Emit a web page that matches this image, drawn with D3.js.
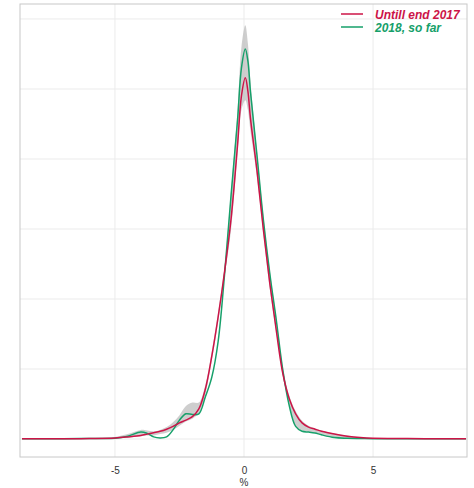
<!DOCTYPE html>
<html>
<head>
<meta charset="utf-8">
<script src="https://cdn.jsdelivr.net/npm/d3@7"></script>
<style>
  body { margin: 0; background: #fff; }
  text { font-family: "Liberation Sans", Arial, sans-serif; }
</style>
</head>
<body>
<div id="chart"></div>
<script>
var xs = [-8.6, -7, -6, -5, -4.5, -4, -3.75, -3.5, -3.25, -3, -2.75, -2.5, -2.25, -2, -1.75, -1.5, -1.25, -1, -0.75, -0.5, -0.25, -0.1, 0.05, 0.15, 0.25, 0.5, 0.75, 1, 1.25, 1.5, 1.75, 2, 2.25, 2.5, 2.75, 3, 3.5, 4, 4.5, 5, 6, 7, 8.6];

// density until end 2017
var until2017 = [0.0002, 0.0003, 0.0007, 0.0015, 0.003, 0.005, 0.007, 0.009, 0.011, 0.014, 0.018, 0.023, 0.027, 0.032, 0.043, 0.071, 0.118, 0.175, 0.24, 0.315, 0.42, 0.49, 0.516, 0.497, 0.458, 0.384, 0.299, 0.222, 0.155, 0.094, 0.058, 0.036, 0.023, 0.017, 0.014, 0.011, 0.007, 0.004, 0.002, 0.001, 0.0008, 0.0005, 0.0003];

// density 2018 so far
var so2018 = [0.0003, 0.0005, 0.0008, 0.001, 0.004, 0.010, 0.008, 0.003, 0.0015, 0.003, 0.013, 0.027, 0.036, 0.035, 0.036, 0.06, 0.088, 0.14, 0.237, 0.349, 0.456, 0.53, 0.557, 0.54, 0.496, 0.406, 0.313, 0.236, 0.17, 0.099, 0.048, 0.018, 0.011, 0.010, 0.0086, 0.006, 0.002, 0.001, 0.0007, 0.0005, 0.0004, 0.0003, 0.0002];

// grey band
var bandLow = [0, 0.0002, 0.0004, 0.0008, 0.002, 0.004, 0.005, 0.005, 0.007, 0.009, 0.013, 0.019, 0.025, 0.029, 0.037, 0.064, 0.112, 0.168, 0.232, 0.30, 0.41, 0.47, 0.484, 0.47, 0.44, 0.375, 0.293, 0.214, 0.152, 0.09, 0.049, 0.018, 0.012, 0.010, 0.009, 0.006, 0.002, 0.001, 0.0005, 0.0003, 0.0002, 0.0002, 0.0001];
var bandHigh = [0.0006, 0.0008, 0.0012, 0.003, 0.007, 0.013, 0.012, 0.011, 0.013, 0.017, 0.024, 0.034, 0.047, 0.052, 0.052, 0.077, 0.125, 0.182, 0.248, 0.355, 0.47, 0.56, 0.591, 0.565, 0.51, 0.412, 0.318, 0.24, 0.173, 0.104, 0.062, 0.04, 0.026, 0.019, 0.015, 0.012, 0.008, 0.005, 0.0025, 0.0012, 0.001, 0.0008, 0.0005];

var xTicks = [-5, 0, 5];
var yGrid = [0, 0.1, 0.2, 0.3, 0.4, 0.5, 0.6];
var seriesNames = ["Untill end 2017", "2018, so far"];
var seriesColors = ["#cc1447", "#16a06a"];

var w = 474, h = 488;
var pLeft = 20, pRight = 467, pTop = 4, pBottom = 457; // panel edges

var svg = d3.select("#chart").append("svg")
    .attr("width", w)
    .attr("height", h);

var x = d3.scaleLinear().domain([-8.68, 8.64]).range([pLeft, pRight]);
var y = d3.scaleLinear().domain([-0.0257, 0.6214]).range([pBottom, pTop]);

// grid
svg.append("g").selectAll("line")
    .data(yGrid).enter().append("line")
    .attr("x1", pLeft).attr("x2", pRight)
    .attr("y1", function(d) { return y(d); })
    .attr("y2", function(d) { return y(d); })
    .attr("stroke", "#ebebeb").attr("stroke-width", 1);

svg.append("g").selectAll("line")
    .data(xTicks).enter().append("line")
    .attr("y1", pTop).attr("y2", pBottom)
    .attr("x1", function(d) { return x(d); })
    .attr("x2", function(d) { return x(d); })
    .attr("stroke", "#ebebeb").attr("stroke-width", 1);

var rows = xs.map(function(v, i) {
    return { x: v, a: until2017[i], b: so2018[i], lo: bandLow[i], hi: bandHigh[i] };
});

var curve = d3.curveCatmullRom.alpha(0.5);

var area = d3.area()
    .x(function(d) { return x(d.x); })
    .y0(function(d) { return y(d.lo); })
    .y1(function(d) { return y(d.hi); })
    .curve(curve);

svg.append("path")
    .datum(rows)
    .attr("d", area)
    .attr("fill", "#bdbdbd")
    .attr("fill-opacity", 0.75);

function lineFor(key) {
    return d3.line()
        .x(function(d) { return x(d.x); })
        .y(function(d) { return y(d[key]); })
        .curve(curve);
}

svg.append("path").datum(rows)
    .attr("d", lineFor("b"))
    .attr("fill", "none")
    .attr("stroke", seriesColors[1])
    .attr("stroke-width", 1.5);

svg.append("path").datum(rows)
    .attr("d", lineFor("a"))
    .attr("fill", "none")
    .attr("stroke", seriesColors[0])
    .attr("stroke-width", 1.5);

// panel border
svg.append("rect")
    .attr("x", pLeft).attr("y", pTop)
    .attr("width", pRight - pLeft).attr("height", pBottom - pTop)
    .attr("fill", "none")
    .attr("stroke", "#c8c8c8").attr("stroke-width", 1);

// x axis labels (no tick marks)
var xAxis = d3.axisBottom(x).tickValues(xTicks).tickSize(0).tickPadding(0)
    .tickFormat(function(d) { return d; });
var gx = svg.append("g")
    .attr("transform", "translate(0," + (pBottom + 10) + ")")
    .call(xAxis);
gx.select(".domain").remove();
gx.selectAll("text")
    .attr("font-size", "10px")
    .attr("fill", "#333")
    .attr("font-family", "Liberation Sans, Arial, sans-serif");

svg.append("text")
    .attr("x", x(0)).attr("y", 486)
    .attr("text-anchor", "middle")
    .attr("font-size", "10px")
    .attr("fill", "#333")
    .text("%");

// legend
var legend = svg.append("g");
seriesNames.forEach(function(name, i) {
    var ly = 14 + i * 13;
    legend.append("line")
        .attr("x1", 341).attr("x2", 363)
        .attr("y1", ly).attr("y2", ly)
        .attr("stroke", seriesColors[i]).attr("stroke-width", 1.5);
    legend.append("text")
        .attr("x", 375).attr("y", ly + 4.5)
        .attr("font-size", "12px")
        .attr("font-weight", "bold")
        .attr("font-style", "italic")
        .attr("fill", seriesColors[i])
        .text(name);
});
</script>
</body>
</html>
